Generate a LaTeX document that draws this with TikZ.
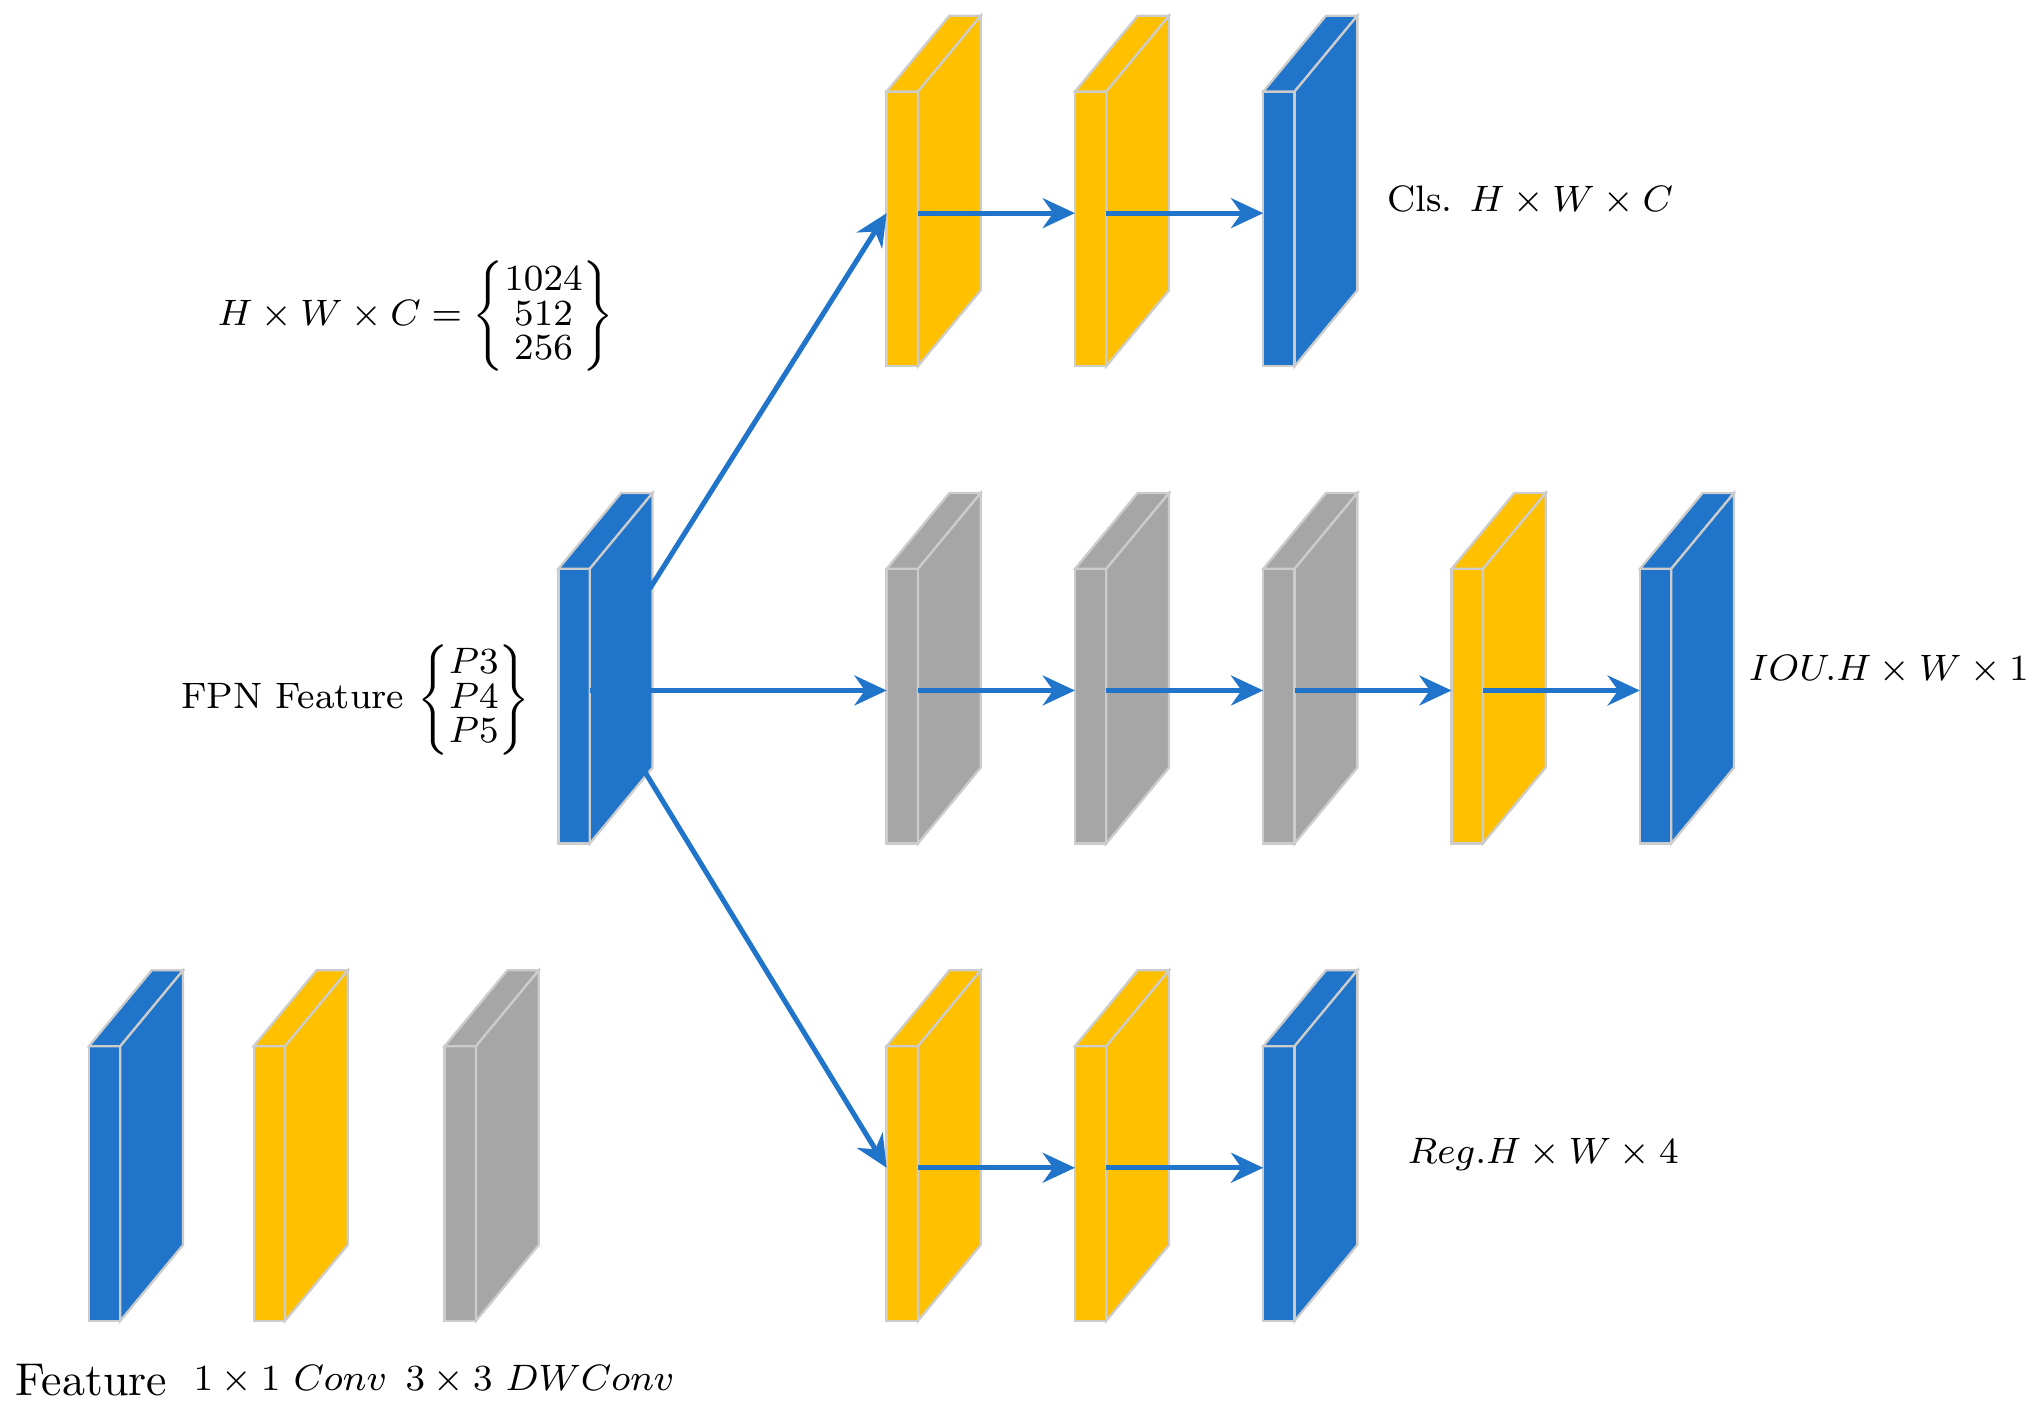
\documentclass[tikz,border=0pt]{standalone}
\usepackage{amsmath}
\usetikzlibrary{arrows.meta}
\definecolor{bl}{HTML}{2074C9}
\definecolor{yl}{HTML}{FFC000}
\definecolor{gy}{HTML}{A6A6A6}
\newcommand\blk[4]{%
 \fill[#3,draw=black!20,line width=0.5pt] (#1,#2) rectangle ++(24,210);
 \fill[#3,draw=black!20,line width=0.5pt] (#1,#2) -- ++(24,0) -- ++(48,-58) -- ++(-24,0) -- cycle;
 \fill[#3,draw=black!20,line width=0.5pt] (#1+24,#2) -- ++(48,-58) -- ++(0,210) -- ++(-48,58) -- cycle;
 \coordinate (#4-l) at (#1,#2+93);
 \coordinate (#4-r) at (#1+24,#2+93);}
\tikzset{arr/.style={bl,line width=1.1pt,-{Stealth[length=7pt,width=6.5pt]}},
 lab/.style={font=\footnotesize,anchor=center,inner sep=0pt}}
\begin{document}
\begin{tikzpicture}[x=0.01cm,y=-0.01cm]
\useasboundingbox (0,0) rectangle (1560,1085);
\blk{678}{70}{yl}{a1}\blk{822}{70}{yl}{a2}\blk{966}{70}{bl}{a3}
\blk{427}{435}{bl}{f}
\blk{678}{435}{gy}{b1}\blk{822}{435}{gy}{b2}\blk{966}{435}{gy}{b3}\blk{1110}{435}{yl}{b4}\blk{1254}{435}{bl}{b5}
\blk{678}{800}{yl}{c1}\blk{822}{800}{yl}{c2}\blk{966}{800}{bl}{c3}
\blk{68}{800}{bl}{l1}\blk{194}{800}{yl}{l2}\blk{340}{800}{gy}{l3}
\coordinate (fu) at (497,450);
\coordinate (fd) at (493,590);
\draw[arr] (fu) -- (a1-l);
\draw[arr] (f-r) -- (b1-l);
\draw[arr] (fd) -- (c1-l);
\draw[arr] (a1-r) -- (a2-l); \draw[arr] (a2-r) -- (a3-l);
\draw[arr] (b1-r) -- (b2-l); \draw[arr] (b2-r) -- (b3-l); \draw[arr] (b3-r) -- (b4-l); \draw[arr] (b4-r) -- (b5-l);
\draw[arr] (c1-r) -- (c2-l); \draw[arr] (c2-r) -- (c3-l);
\node[lab] (t1) at (1170,153) {Cls. $H\times W\times C$};
\node[lab,anchor=east] (t2) at (1552,512) {$IOU.H\times W\times 1$};
\node[lab] (t3) at (1180,883) {$Reg.H\times W\times 4$};
\node[lab] (t4) at (272,535) {FPN Feature $\left\{\begin{matrix}P3\\[-2pt]P4\\[-2pt]P5\end{matrix}\right\}$};
\node[lab] (t5) at (318,242) {$H\times W\times C=\left\{\begin{matrix}1024\\[-2pt]512\\[-2pt]256\end{matrix}\right\}$};
\node[font=\normalsize,inner sep=0pt] (g1) at (70,1055) {Feature};
\node[lab] (g2) at (222,1055) {$1\times1\ Conv$};
\node[lab] (g3) at (413,1055) {$3\times3\ DWConv$};
\end{tikzpicture}
\end{document}
